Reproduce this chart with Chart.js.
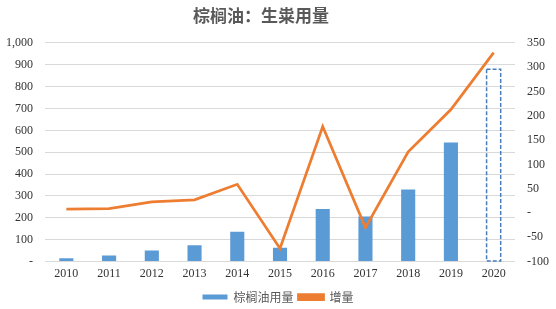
<!DOCTYPE html>
<html><head><meta charset="utf-8">
<script src="https://cdn.jsdelivr.net/npm/chart.js@4"></script>
<style>html,body{margin:0;padding:0;background:#fff}#wrap{width:556px;height:309px}</style>
</head><body><div id="wrap"><canvas id="c"></canvas></div>
<script>
const categories = ['2010','2011','2012','2013','2014','2015','2016','2017','2018','2019','2020'];
const usage = [15, 28, 51, 75, 137, 63, 241, 206, 330, 545, 880];
const increase = [8, 9, 23, 27, 59, -73, 178, -30, 126, 213, 330];
const forecastIndex = 10;
const leftTicks = [0,100,200,300,400,500,600,700,800,900,1000];
const rightTicks = [-100,-50,0,50,100,150,200,250,300,350];

const BLUE = '#5B9BD5', ORANGE = '#ED7D31';
const barColors = usage.map((v,i)=> i===forecastIndex ? 'rgba(0,0,0,0)' : BLUE);

const dashedBar = {
  id:'dashedBar',
  afterDatasetsDraw(chart){
    const meta = chart.getDatasetMeta(0);
    const el = meta.data[forecastIndex];
    if(!el) return;
    const {x,y,base,width} = el.getProps(['x','y','base','width'], true);
    const ctx = chart.ctx;
    ctx.save();
    ctx.setLineDash([4,2]);
    ctx.strokeStyle = '#4A7EBB';
    ctx.lineWidth = 1.5;
    ctx.strokeRect(x-width/2, y, width, base-y);
    ctx.restore();
  }
};

const serif = "'Liberation Serif','Times New Roman',serif";
const fmt = v => v===0 ? '-' : v.toLocaleString('en-US');

new Chart(document.getElementById('c'), {
  data:{
    labels:categories,
    datasets:[
      {type:'bar', label:'棕榈油用量', data:usage, backgroundColor:barColors, borderWidth:0,
       yAxisID:'y', order:1, categoryPercentage:1, barPercentage:0.33},
      {type:'line', label:'增量', data:increase, borderColor:ORANGE, backgroundColor:ORANGE,
       borderWidth:2.75, pointRadius:0, tension:0, yAxisID:'y1', order:0}
    ]
  },
  options:{
    responsive:true, maintainAspectRatio:false, animation:false,
    layout:{padding:{left:0,right:0,top:0,bottom:-4}},
    plugins:{
      title:{display:true, text:'棕榈油：生粜用量\u3000\u3000', color:'#595959',
        font:{family:"'Noto Sans CJK SC'", size:17, weight:'bold'}, padding:{top:5,bottom:17.5}},
      legend:{position:'bottom', labels:{boxWidth:25, boxHeight:5, color:'#595959',
        font:{family:"'Noto Sans CJK SC'", size:12}, padding:5,
        sort:(a,b)=>a.datasetIndex-b.datasetIndex}},
      tooltip:{enabled:false}
    },
    scales:{
      x:{offset:true, grid:{display:false, drawTicks:false}, border:{display:false},
        ticks:{color:'#333', font:{family:serif, size:12}, padding:5}},
      y:{position:'left', min:0, max:1000, border:{display:false},
        afterBuildTicks(s){ s.ticks = leftTicks.map(v=>({value:v})); },
        afterFit(s){ s.width = 45; },
        grid:{color:'#d9d9d9', drawTicks:false},
        ticks:{color:'#333', font:{family:serif, size:12}, padding:12, callback:fmt}},
      y1:{position:'right', min:-100, max:350, border:{display:false},
        afterBuildTicks(s){ s.ticks = rightTicks.map(v=>({value:v})); },
        afterFit(s){ s.width = 41; },
        grid:{drawOnChartArea:false, drawTicks:false},
        ticks:{color:'#333', font:{family:serif, size:12}, padding:12, callback:fmt}}
    }
  },
  plugins:[dashedBar]
});
</script></body></html>
